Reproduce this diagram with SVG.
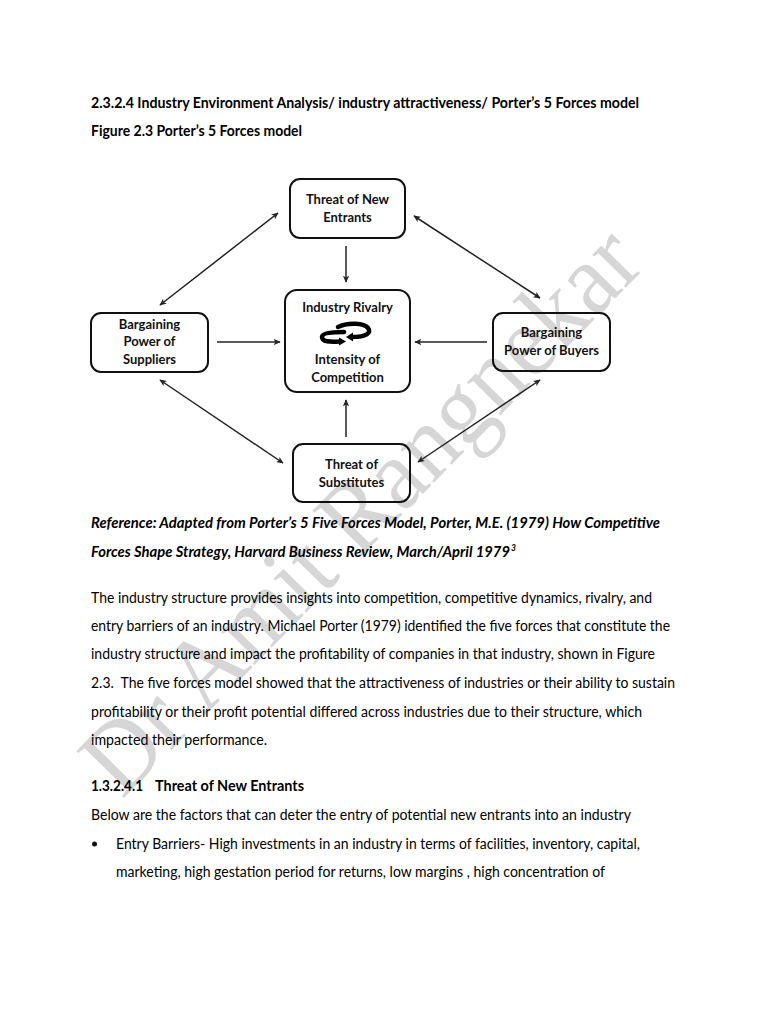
<svg xmlns="http://www.w3.org/2000/svg" width="768" height="1024" viewBox="0 0 768 1024">
<defs>
<style>
.body{font-family:Lato,"Open Sans","Liberation Sans",sans-serif;font-size:14.5px;fill:#000}
.bold{font-weight:bold}
.ital{font-style:italic;font-weight:bold}
.sup{font-size:8.5px}
.node rect{fill:none;stroke:#111;stroke-width:2}
.lbl{font-family:Lato,"Liberation Sans",sans-serif;font-size:13px;font-weight:bold;fill:#111;text-anchor:middle}
.conn line{stroke:#222;stroke-width:1.5;fill:none}
.wm{font-family:"Liberation Serif",serif;font-size:102px;fill:#d6d6d6}
</style>
<marker id="ah" viewBox="0 0 10 10" refX="9" refY="5" markerWidth="7" markerHeight="7" orient="auto-start-reverse" markerUnits="userSpaceOnUse">
<path d="M0,0.5 L10,5 L0,9.5 L2.5,5 z" fill="#222"/>
</marker>
</defs>
<rect width="768" height="1024" fill="#fff"/>

<text class="wm" transform="translate(122,800) rotate(-45.5)" textLength="748" lengthAdjust="spacingAndGlyphs">Dr Amit Rangnekar</text>

<text class="body bold" x="91" y="108" textLength="548" lengthAdjust="spacingAndGlyphs">2.3.2.4 Industry Environment Analysis/ industry attractiveness/ Porter’s 5 Forces model</text>
<text class="body bold" x="91" y="136" textLength="211" lengthAdjust="spacingAndGlyphs">Figure 2.3 Porter’s 5 Forces model</text>

<g class="conn">
<line x1="346" y1="246" x2="346" y2="282" marker-end="url(#ah)"/>
<line x1="346" y1="437" x2="346" y2="400" marker-end="url(#ah)"/>
<line x1="217" y1="342" x2="280" y2="342" marker-end="url(#ah)"/>
<line x1="487" y1="342" x2="415" y2="342" marker-end="url(#ah)"/>
<line x1="278" y1="213" x2="160" y2="305" marker-start="url(#ah)" marker-end="url(#ah)"/>
<line x1="414" y1="216" x2="540" y2="298" marker-start="url(#ah)" marker-end="url(#ah)"/>
<line x1="160" y1="380" x2="283" y2="463" marker-start="url(#ah)" marker-end="url(#ah)"/>
<line x1="540" y1="380" x2="418" y2="462" marker-start="url(#ah)" marker-end="url(#ah)"/>
</g>

<g id="new-entrants" class="node">
<rect x="290" y="179" width="115" height="59" rx="10"/>
<text class="lbl" x="347.5" y="204">Threat of New</text>
<text class="lbl" x="347.5" y="222">Entrants</text>
</g>
<g id="rivalry" class="node">
<rect x="285" y="290" width="125" height="102" rx="12"/>
<text class="lbl" x="347.5" y="312">Industry Rivalry</text>
<g transform="translate(346,333)" fill="#000" stroke="none">
<path d="M-8,-6 C2,-11 18,-10 22,-5 C26,0 20,4 6,4" fill="none" stroke="#000" stroke-width="4.5" stroke-linecap="round"/>
<path d="M7,-0.5 L0,4 L7,8.5 z"/>
<path d="M-2,-1 C-14,-1 -24,0 -24,4 C-24,9 -16,9 -6,8.5" fill="none" stroke="#000" stroke-width="4.5" stroke-linecap="round"/>
<path d="M-7,4.5 L0,8.5 L-7,12.5 z"/>
</g>
<text class="lbl" x="347.5" y="364">Intensity of</text>
<text class="lbl" x="347.5" y="382">Competition</text>
</g>
<g id="suppliers" class="node">
<rect x="91" y="313" width="117" height="59" rx="10"/>
<text class="lbl" x="149.5" y="329">Bargaining</text>
<text class="lbl" x="149.5" y="346">Power of</text>
<text class="lbl" x="149.5" y="364">Suppliers</text>
</g>
<g id="buyers" class="node">
<rect x="493" y="313" width="117" height="58" rx="10"/>
<text class="lbl" x="551.5" y="337">Bargaining</text>
<text class="lbl" x="551.5" y="355">Power of Buyers</text>
</g>
<g id="substitutes" class="node">
<rect x="293" y="444" width="117" height="58" rx="10"/>
<text class="lbl" x="351.5" y="469">Threat of</text>
<text class="lbl" x="351.5" y="487">Substitutes</text>
</g>

<text class="body ital" x="91" y="528" textLength="569" lengthAdjust="spacingAndGlyphs">Reference: Adapted from Porter’s 5 Five Forces Model, Porter, M.E. (1979) How Competitive</text>
<text class="body ital" x="91" y="557" textLength="419" lengthAdjust="spacingAndGlyphs">Forces Shape Strategy, Harvard Business Review, March/April 1979</text>
<text class="body ital sup" x="511" y="551">3</text>

<text class="body" x="91" y="603" textLength="561" lengthAdjust="spacingAndGlyphs">The industry structure provides insights into competition, competitive dynamics, rivalry, and</text>
<text class="body" x="91" y="631" textLength="579" lengthAdjust="spacingAndGlyphs">entry barriers of an industry. Michael Porter (1979) identified the five forces that constitute the</text>
<text class="body" x="91" y="659" textLength="564" lengthAdjust="spacingAndGlyphs">industry structure and impact the profitability of companies in that industry, shown in Figure</text>
<text class="body" x="91" y="688" textLength="584" lengthAdjust="spacingAndGlyphs">2.3.&#160; The five forces model showed that the attractiveness of industries or their ability to sustain</text>
<text class="body" x="91" y="717" textLength="551" lengthAdjust="spacingAndGlyphs">profitability or their profit potential differed across industries due to their structure, which</text>
<text class="body" x="91" y="745" textLength="176" lengthAdjust="spacingAndGlyphs">impacted their performance.</text>

<text class="body bold" x="91" y="791" textLength="52" lengthAdjust="spacingAndGlyphs">1.3.2.4.1</text>
<text class="body bold" x="155" y="791" textLength="149" lengthAdjust="spacingAndGlyphs">Threat of New Entrants</text>
<text class="body" x="91" y="820" textLength="540" lengthAdjust="spacingAndGlyphs">Below are the factors that can deter the entry of potential new entrants into an industry</text>
<circle cx="94.5" cy="844" r="2.5" fill="#111"/>
<text class="body" x="116" y="849" textLength="524" lengthAdjust="spacingAndGlyphs">Entry Barriers- High investments in an industry in terms of facilities, inventory, capital,</text>
<text class="body" x="116" y="877" textLength="489" lengthAdjust="spacingAndGlyphs">marketing, high gestation period for returns, low margins , high concentration of</text>
</svg>
